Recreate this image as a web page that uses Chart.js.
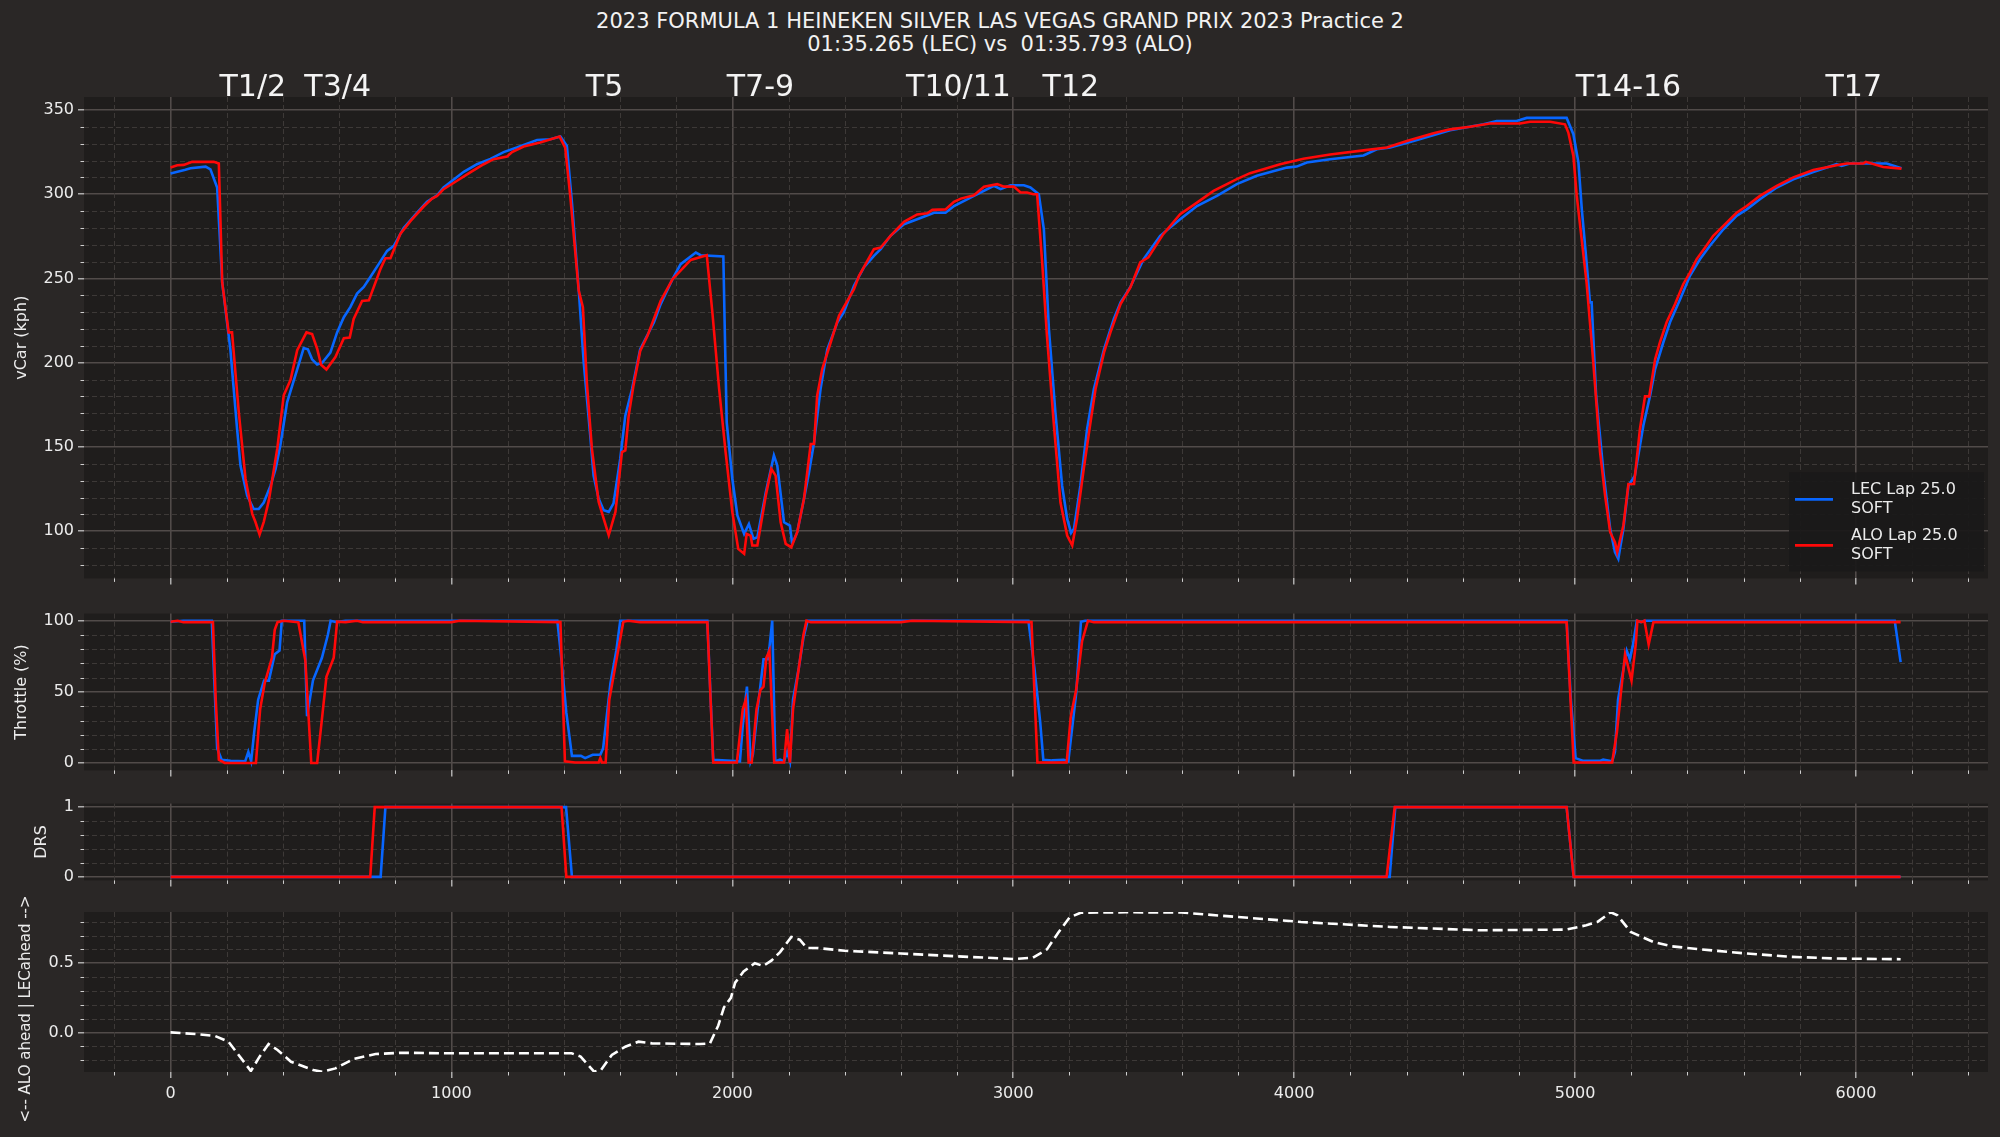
<!DOCTYPE html>
<html>
<head>
<meta charset="utf-8">
<script src="https://cdn.jsdelivr.net/npm/chart.js@4.4.0/dist/chart.umd.min.js"></script>
<style>
  html, body { margin: 0; padding: 0; background: #2a2726; width: 2000px; height: 1137px; overflow: hidden; }
  .panel { position: absolute; left: 0; width: 2000px; }
  .title { position: absolute; left: 0; width: 2000px; text-align: center; color: #f2f2f2;
           font: 21px 'DejaVu Sans', sans-serif; white-space: pre; }
</style>
</head>
<body>
<div class="title" style="top:9px">2023 FORMULA 1 HEINEKEN SILVER LAS VEGAS GRAND PRIX 2023 Practice 2</div>
<div class="title" style="top:32px">01:35.265 (LEC) vs  01:35.793 (ALO)</div>
<div class="panel" style="top:55px;height:537px"><canvas id="speedChart"></canvas></div>
<div class="panel" style="top:600px;height:184px"><canvas id="throttleChart"></canvas></div>
<div class="panel" style="top:790px;height:104px"><canvas id="drsChart"></canvas></div>
<div class="panel" style="top:880px;height:257px"><canvas id="deltaChart"></canvas></div>

<script>
// ---- data (distance in m) ----
const drivers = ['LEC', 'ALO'];
const lapText = ['Lap 25.0', 'SOFT'];

const turnLabels = ['T1/2', 'T3/4', 'T5', 'T7-9', 'T10/11', 'T12', 'T14-16', 'T17'];
const turnDist = [293, 595, 1545, 2100, 2805, 3205, 5190, 5992];

const xTicks = [0, 1000, 2000, 3000, 4000, 5000, 6000];
const speedTicks = [100, 150, 200, 250, 300, 350];
const throttleTicks = [0, 50, 100];
const drsTicks = [0, 1];
const deltaTicks = [0, 0.5];

const speedDistLec = [0, 53, 71, 125, 142, 166, 184, 213, 237, 249, 273, 296, 314, 332, 356, 374, 391, 415, 451, 474, 489, 504, 522, 540, 569, 593, 617, 640, 664, 688, 712, 741, 771, 795, 830, 877, 913, 949, 972, 1044, 1091, 1139, 1186, 1233, 1305, 1352, 1388, 1411, 1429, 1453, 1471, 1494, 1506, 1524, 1542, 1560, 1577, 1601, 1619, 1643, 1672, 1721, 1745, 1787, 1816, 1870, 1887, 1968, 1973, 1980, 2000, 2018, 2042, 2059, 2075, 2089, 2119, 2148, 2160, 2184, 2205, 2213, 2231, 2255, 2273, 2291, 2314, 2338, 2374, 2397, 2433, 2468, 2504, 2528, 2563, 2611, 2658, 2718, 2759, 2789, 2860, 2931, 2955, 2990, 3038, 3061, 3091, 3109, 3127, 3150, 3174, 3192, 3206, 3216, 3239, 3263, 3287, 3323, 3358, 3382, 3417, 3464, 3523, 3594, 3654, 3725, 3796, 3867, 3974, 4009, 4045, 4128, 4247, 4294, 4342, 4425, 4555, 4674, 4721, 4792, 4828, 4970, 4994, 5012, 5024, 5041, 5053, 5059, 5075, 5101, 5125, 5142, 5154, 5172, 5190, 5213, 5243, 5267, 5285, 5314, 5338, 5374, 5409, 5445, 5480, 5528, 5575, 5611, 5658, 5718, 5777, 5848, 5931, 5949, 5978, 6109, 6162];
const speedLec = [312.3, 314.5, 315.4, 316.4, 314.8, 304, 247.6, 208, 160.7, 139, 121, 113.2, 113.2, 117, 127, 137, 151, 176.5, 196, 208.7, 208, 202, 199, 200, 206, 218, 227, 233, 241, 245, 251, 258.5, 266.4, 269.4, 280, 289, 295.5, 299.4, 304, 313.3, 317.8, 321, 325, 327.7, 332.2, 332.6, 334.2, 328.7, 295, 243.7, 200, 157, 133, 119.4, 112.5, 111.5, 116.5, 143, 168.6, 184.4, 208, 224, 234.8, 249.6, 258.5, 265.4, 263.8, 263, 220, 164.6, 131, 109.3, 98.4, 104.3, 95.5, 96.4, 123, 145, 139, 105.3, 103.4, 92.5, 99.4, 119.2, 135, 152.8, 184.4, 208, 224, 230, 245.7, 256.5, 263.4, 267.4, 275.3, 282.2, 285.2, 289, 289, 293, 299, 305, 303, 305.3, 305.3, 304, 300, 279.2, 220, 170.6, 127, 107.3, 99, 101.4, 127, 160.7, 184.4, 208, 226, 235.8, 245, 261.5, 275.3, 285.2, 293, 299, 306, 311, 315.8, 316.4, 318.8, 320.8, 323, 326.7, 327.7, 331.6, 338, 341.5, 343.5, 343.5, 345.3, 345.3, 335.6, 318.8, 291, 259.5, 235.8, 235.8, 180.4, 135, 101.4, 87.6, 83.6, 101.4, 127, 133, 162.6, 180.4, 196.2, 212, 224, 237.7, 251.6, 261.5, 269.4, 279.2, 287.2, 291, 297, 304, 308.9, 313.2, 317.8, 316.8, 318.2, 318.2, 315.4];

const speedDistAlo = [0, 24, 47, 77, 154, 172, 184, 207, 219, 243, 267, 291, 302, 317, 332, 350, 380, 403, 427, 451, 484, 504, 522, 536, 555, 587, 617, 638, 652, 682, 706, 747, 765, 783, 818, 854, 901, 931, 949, 972, 1020, 1067, 1115, 1150, 1198, 1216, 1257, 1316, 1385, 1405, 1423, 1453, 1468, 1482, 1500, 1524, 1542, 1560, 1584, 1607, 1619, 1631, 1648, 1672, 1698, 1745, 1787, 1852, 1909, 1929, 1953, 1976, 2000, 2021, 2042, 2051, 2065, 2071, 2089, 2119, 2139, 2154, 2172, 2190, 2210, 2231, 2255, 2279, 2291, 2302, 2320, 2350, 2380, 2433, 2451, 2504, 2528, 2563, 2611, 2658, 2694, 2712, 2759, 2789, 2813, 2860, 2896, 2943, 2967, 3002, 3026, 3049, 3071, 3085, 3103, 3120, 3144, 3168, 3192, 3210, 3227, 3251, 3275, 3293, 3323, 3346, 3382, 3417, 3452, 3481, 3534, 3594, 3654, 3713, 3796, 3843, 3950, 4033, 4128, 4247, 4330, 4401, 4496, 4555, 4626, 4697, 4804, 4840, 4911, 4964, 4976, 4994, 5006, 5041, 5065, 5089, 5107, 5125, 5142, 5150, 5172, 5190, 5210, 5231, 5249, 5264, 5285, 5302, 5326, 5356, 5385, 5409, 5433, 5463, 5492, 5528, 5575, 5611, 5658, 5718, 5777, 5848, 5931, 5967, 6026, 6035, 6097, 6162];
const speedAlo = [315.8, 317.2, 317.4, 319.2, 319.2, 318.2, 247.6, 218, 218, 170.6, 131, 110.3, 105.6, 98, 105.6, 118.3, 149, 180.7, 189.7, 207.4, 218, 217, 208.3, 198.8, 196, 203.4, 214.6, 215, 226, 236.7, 237, 255.5, 262, 262, 276.4, 284, 292.7, 297.4, 299, 303, 308, 313, 317.8, 320.8, 322.4, 325, 328.3, 330.7, 334.2, 327.7, 299, 243, 233, 188.5, 149, 117.5, 107.5, 97.6, 111.5, 147, 148, 168.6, 186.4, 207, 216, 236.7, 249.6, 261, 263.8, 229.8, 184.4, 147, 111.3, 89.5, 86.6, 98.4, 97.4, 91.5, 91.5, 121, 137, 133, 105.3, 92.5, 90.5, 99.4, 119.2, 151.8, 151.8, 180.4, 196.2, 212, 228, 243.7, 251.6, 267.4, 268.4, 275.3, 283.6, 288, 288.7, 290.7, 291, 295.5, 297.4, 299.4, 304.5, 306, 304.5, 304.5, 301, 301, 300, 300, 259.5, 216, 164.6, 117.2, 97.4, 91.5, 107.3, 137, 164.6, 184.4, 206, 218, 234.8, 244.7, 259.5, 262.5, 276.3, 288.2, 295, 302, 309, 312.5, 317.8, 321, 323.6, 326, 327.7, 331.6, 336.2, 338.5, 340, 342, 342, 343, 343, 341.5, 336.6, 322.7, 299, 247.6, 200, 147, 121, 99.4, 93.5, 87.6, 103.4, 128, 128, 160.7, 180, 180, 202, 212, 224, 234.8, 246.6, 253.5, 261.5, 268.4, 275.3, 281.2, 289, 293, 299, 305, 310, 314.4, 317.2, 318.2, 318.2, 319.2, 316.2, 315.2];

const throttleDistLec = [0, 46, 147, 166, 182, 214, 266, 277, 287, 298, 312, 333, 350, 371, 388, 396, 476, 486, 507, 539, 560, 570, 591, 623, 1377, 1392, 1409, 1429, 1461, 1476, 1503, 1530, 1540, 1566, 1587, 1601, 1911, 1932, 1995, 2027, 2037, 2052, 2065, 2073, 2090, 2111, 2126, 2132, 2142, 2153, 2170, 2184, 2195, 2205, 2216, 2237, 2253, 2268, 3054, 3075, 3096, 3107, 3138, 3180, 3196, 3224, 3241, 3256, 4970, 4985, 5002, 5027, 5090, 5100, 5132, 5142, 5153, 5163, 5184, 5195, 5205, 5220, 5233, 5247, 6138, 6159];
const throttleLec = [99.3, 100, 100, 10.5, 2.5, 1.8, 1.4, 8, 1.4, 22, 44.6, 58, 58, 76.5, 79, 100, 100, 33, 58, 74, 90, 100, 99, 100, 100, 72, 35.5, 5.2, 5.2, 3.6, 6, 6, 10.5, 56, 79, 100, 100, 2.5, 1.8, 1.4, 26.4, 53.8, 1.4, 6, 37.8, 73, 73, 81, 100, 1.4, 2.5, 1.4, 8, 1.4, 44.6, 67.4, 88, 100, 100, 67.4, 28.7, 2.5, 2, 2.5, 1.4, 49, 99.3, 100, 100, 44.6, 3.6, 1.8, 1.8, 2.5, 1.4, 8, 44.6, 56, 79, 73, 82, 100, 99, 100, 100, 71];

const throttleDistAlo = [0, 25, 46, 151, 161, 172, 193, 304, 319, 335, 361, 371, 381, 402, 455, 480, 501, 522, 539, 555, 581, 593, 623, 664, 685, 1000, 1030, 1388, 1404, 1440, 1524, 1530, 1536, 1549, 1562, 1587, 1612, 1629, 1671, 1911, 1932, 2016, 2037, 2048, 2058, 2069, 2086, 2100, 2111, 2121, 2132, 2149, 2184, 2195, 2205, 2216, 2237, 2253, 2264, 2279, 2600, 2640, 3065, 3086, 3190, 3205, 3224, 3245, 3266, 3287, 4970, 4995, 5132, 5149, 5163, 5178, 5201, 5216, 5222, 5237, 5247, 5262, 5279, 6159];
const throttleAlo = [99.3, 100, 99, 99, 44.6, 2.5, 0.2, 0.2, 37.8, 56, 74, 93.6, 99, 100, 99, 72, 0.2, 0.2, 31, 60.6, 74, 99.3, 99, 100, 99, 99, 100, 99, 1.4, 0.5, 0.5, 3.6, 0.5, 0.5, 44.6, 72, 99.3, 100, 99, 99, 0.5, 0.5, 37.8, 44.6, 0.5, 0.5, 37.8, 51.5, 53.8, 74, 79, 0.5, 0.5, 24, 0.5, 37.8, 67.4, 90, 100, 99, 99, 100, 99, 0.5, 0.5, 33, 51.5, 85.6, 100, 99, 99, 0.5, 0.5, 21.9, 49, 76.5, 58, 83.4, 100, 99, 100, 83.4, 99, 99];

const drsDistLec = [0, 748, 765, 1408, 1429, 4340, 4360, 4970, 4995, 6159];
const drsLec = [0, 0, 1, 1, 0, 0, 1, 1, 0, 0];
const drsDistAlo = [0, 711, 727, 1392, 1409, 4329, 4358, 4970, 4995, 6159];
const drsAlo = [0, 0, 1, 1, 0, 0, 1, 1, 0, 0];

const deltaDist = [0, 95, 159, 206, 238, 286, 317, 349, 381, 429, 508, 540, 587, 651, 730, 825, 984, 1143, 1301, 1428, 1460, 1508, 1532, 1571, 1619, 1666, 1714, 1885, 1920, 1950, 1970, 1995, 2010, 2040, 2080, 2110, 2140, 2170, 2210, 2240, 2265, 2300, 2400, 2600, 2800, 3000, 3070, 3120, 3160, 3200, 3240, 3400, 3600, 3760, 3950, 4024, 4341, 4659, 4968, 5040, 5079, 5127, 5151, 5198, 5278, 5341, 5452, 5611, 5770, 5928, 6159];
const deltaVal = [0, -0.012, -0.026, -0.067, -0.151, -0.279, -0.175, -0.084, -0.127, -0.212, -0.272, -0.284, -0.26, -0.192, -0.156, -0.147, -0.151, -0.151, -0.151, -0.151, -0.175, -0.284, -0.272, -0.163, -0.103, -0.067, -0.079, -0.084, -0.08, 0.05, 0.18, 0.25, 0.36, 0.44, 0.5, 0.48, 0.52, 0.58, 0.69, 0.67, 0.61, 0.61, 0.59, 0.57, 0.55, 0.53, 0.54, 0.6, 0.72, 0.83, 0.865, 0.868, 0.866, 0.84, 0.81, 0.798, 0.762, 0.738, 0.743, 0.774, 0.798, 0.868, 0.846, 0.726, 0.654, 0.623, 0.599, 0.57, 0.546, 0.534, 0.529];

// ---- look ----
const FONT = "'DejaVu Sans', sans-serif";
const TEXT = '#ececec';
const LEC_COLOR = '#0866ff';
const ALO_COLOR = '#ff0808';
const GRID_MAJOR = '#514b49';
const GRID_MINOR = '#3d3937';
const AXES_BG = '#1f1d1c';
const X_MIN = -308, X_MAX = 6470;

Chart.defaults.font.family = FONT;
Chart.defaults.font.size = 16;
Chart.defaults.color = TEXT;
Chart.defaults.animation = false;

function pts(xs, ys) {
    return xs.map((x, i) => ({ x: x, y: ys[i] }));
}

function eachMinor(min, max, step, majors, cb) {
    const n0 = Math.ceil(min / step - 1e-9), n1 = Math.floor(max / step + 1e-9);
    for (let n = n0; n <= n1; n++) {
        const v = n * step;
        if (majors.some(m => Math.abs(m - v) < step * 1e-3)) continue;
        cb(v);
    }
}

// background, minor grid / ticks, y label, legend, turn names
const panelPlugin = {
    id: 'panel',
    beforeDraw(chart) {
        const { ctx, chartArea: a } = chart;
        ctx.save();
        ctx.fillStyle = AXES_BG;
        ctx.fillRect(a.left, a.top, a.right - a.left, a.bottom - a.top);
        ctx.restore();
    },
    beforeDatasetsDraw(chart, args, opts) {
        const { ctx, chartArea: a, scales } = chart;
        ctx.save();
        ctx.strokeStyle = GRID_MINOR;
        ctx.lineWidth = 1;
        ctx.setLineDash([5, 3]);
        ctx.beginPath();
        eachMinor(X_MIN, X_MAX, 200, xTicks, v => {
            const px = Math.round(scales.x.getPixelForValue(v)) + 0.5;
            ctx.moveTo(px, a.top); ctx.lineTo(px, a.bottom);
        });
        eachMinor(scales.y.min, scales.y.max, opts.yMinor, opts.yMajor, v => {
            const py = Math.round(scales.y.getPixelForValue(v)) + 0.5;
            ctx.moveTo(a.left, py); ctx.lineTo(a.right, py);
        });
        ctx.stroke();
        ctx.restore();
    },
    afterDraw(chart, args, opts) {
        const { ctx, chartArea: a, scales } = chart;
        ctx.save();
        // minor tick marks
        ctx.strokeStyle = '#cfcfcf';
        ctx.lineWidth = 1;
        ctx.beginPath();
        eachMinor(X_MIN, X_MAX, 200, xTicks, v => {
            const px = Math.round(scales.x.getPixelForValue(v)) + 0.5;
            ctx.moveTo(px, a.bottom); ctx.lineTo(px, a.bottom + 3.5);
        });
        eachMinor(scales.y.min, scales.y.max, opts.yMinor, opts.yMajor, v => {
            const py = Math.round(scales.y.getPixelForValue(v)) + 0.5;
            ctx.moveTo(a.left, py); ctx.lineTo(a.left - 3.5, py);
        });
        ctx.stroke();

        // y axis label
        ctx.fillStyle = TEXT;
        ctx.font = (opts.labelSize || 16) + 'px ' + FONT;
        ctx.textAlign = 'center';
        ctx.textBaseline = 'middle';
        ctx.save();
        ctx.translate(opts.labelX, (a.top + a.bottom) / 2 + (opts.labelShift || 0));
        ctx.rotate(-Math.PI / 2);
        ctx.fillText(opts.yLabel, 0, 0);
        ctx.restore();

        // corner names above the speed trace
        if (opts.turns) {
            ctx.font = '30px ' + FONT;
            ctx.textBaseline = 'alphabetic';
            ctx.fillStyle = '#f4f4f4';
            turnLabels.forEach((t, i) => {
                ctx.fillText(t, scales.x.getPixelForValue(turnDist[i]), a.top - 1);
            });
        }

        // legend
        if (opts.legend) {
            const bx = a.right - 199, by = a.bottom - 106, bw = 195, bh = 99;
            ctx.fillStyle = 'rgba(26,25,25,0.93)';
            ctx.fillRect(bx, by, bw, bh);
            ctx.font = '16px ' + FONT;
            ctx.textAlign = 'left';
            ctx.textBaseline = 'middle';
            const ds = [LEC_COLOR, ALO_COLOR];
            drivers.forEach((d, i) => {
                const y0 = by + 17 + i * 46;
                ctx.strokeStyle = ds[i];
                ctx.lineWidth = 2.6;
                ctx.beginPath();
                ctx.moveTo(bx + 6, y0 + 10); ctx.lineTo(bx + 44, y0 + 10);
                ctx.stroke();
                ctx.fillStyle = TEXT;
                ctx.fillText(d + ' ' + lapText[0], bx + 62, y0);
                ctx.fillText(lapText[1], bx + 62, y0 + 19);
            });
        }
        ctx.restore();
    }
};

function makeChart(id, cfg) {
    const ctx = document.getElementById(id).getContext('2d');
    return new Chart(ctx, {
        type: 'line',
        data: { datasets: cfg.datasets },
        plugins: [panelPlugin],
        options: {
            responsive: true,
            maintainAspectRatio: false,
            layout: { padding: { top: cfg.padTop, right: 12, bottom: 0, left: 0 } },
            elements: { point: { radius: 0 }, line: { tension: 0 } },
            plugins: {
                legend: { display: false },
                tooltip: { enabled: false },
                panel: cfg.panel
            },
            scales: {
                x: {
                    type: 'linear',
                    min: X_MIN,
                    max: X_MAX,
                    afterBuildTicks: s => { s.ticks = xTicks.map(v => ({ value: v })); },
                    afterFit: s => { s.height = cfg.xAxisH; },
                    grid: { color: GRID_MAJOR, lineWidth: 1.6, tickLength: 6, tickColor: '#cfcfcf', tickWidth: 1.2 },
                    border: { display: false },
                    ticks: {
                        display: cfg.showX,
                        padding: 6,
                        maxRotation: 0,
                        autoSkip: false,
                        color: TEXT,
                        callback: v => String(v)
                    }
                },
                y: {
                    min: cfg.yMin,
                    max: cfg.yMax,
                    afterBuildTicks: s => { s.ticks = cfg.yTicks.map(v => ({ value: v })); },
                    afterFit: s => { s.width = 84; },
                    grid: { color: GRID_MAJOR, lineWidth: 1.6, tickLength: 6, tickColor: '#cfcfcf', tickWidth: 1.2 },
                    border: { display: false },
                    ticks: {
                        padding: 4,
                        autoSkip: false,
                        color: TEXT,
                        callback: cfg.fmt
                    }
                }
            }
        }
    });
}

function pair(xl, yl, xa, ya) {
    // ALO first so it is drawn on top of LEC
    return [
        { label: 'ALO', data: pts(xa, ya), borderColor: ALO_COLOR, borderWidth: 2.6 },
        { label: 'LEC', data: pts(xl, yl), borderColor: LEC_COLOR, borderWidth: 2.6 }
    ];
}

makeChart('speedChart', {
    datasets: pair(speedDistLec, speedLec, speedDistAlo, speedAlo),
    padTop: 42, xAxisH: 12, showX: false,
    yMin: 72, yMax: 357.7, yTicks: speedTicks, fmt: v => String(v),
    panel: { yMinor: 10, yMajor: speedTicks, yLabel: 'vCar (kph)', labelX: 22, turns: true, legend: true }
});

makeChart('throttleChart', {
    datasets: pair(throttleDistLec, throttleLec, throttleDistAlo, throttleAlo),
    padTop: 12, xAxisH: 12, showX: false,
    yMin: -5, yMax: 105, yTicks: throttleTicks, fmt: v => String(v),
    panel: { yMinor: 10, yMajor: throttleTicks, yLabel: 'Throttle (%)', labelX: 22 }
});

makeChart('drsChart', {
    datasets: pair(drsDistLec, drsLec, drsDistAlo, drsAlo),
    padTop: 11, xAxisH: 12, showX: false,
    yMin: -0.05, yMax: 1.05, yTicks: drsTicks, fmt: v => String(v),
    panel: { yMinor: 0.2, yMajor: drsTicks, yLabel: 'DRS', labelX: 42 }
});

const deltaMin = Math.min(...deltaVal) - 0.002;
const deltaMax = Math.max(...deltaVal) + 0.002;
makeChart('deltaChart', {
    datasets: [{ label: 'delta', data: pts(deltaDist, deltaVal), borderColor: '#ffffff', borderWidth: 2.6, borderDash: [10, 5] }],
    padTop: 32, xAxisH: 65, showX: true,
    yMin: deltaMin, yMax: deltaMax, yTicks: deltaTicks, fmt: v => v.toFixed(1),
    panel: { yMinor: 0.1, yMajor: deltaTicks, yLabel: '<-- ALO ahead | LECahead -->', labelX: 26, labelShift: 17, labelSize: 15 }
});
</script>
</body>
</html>
